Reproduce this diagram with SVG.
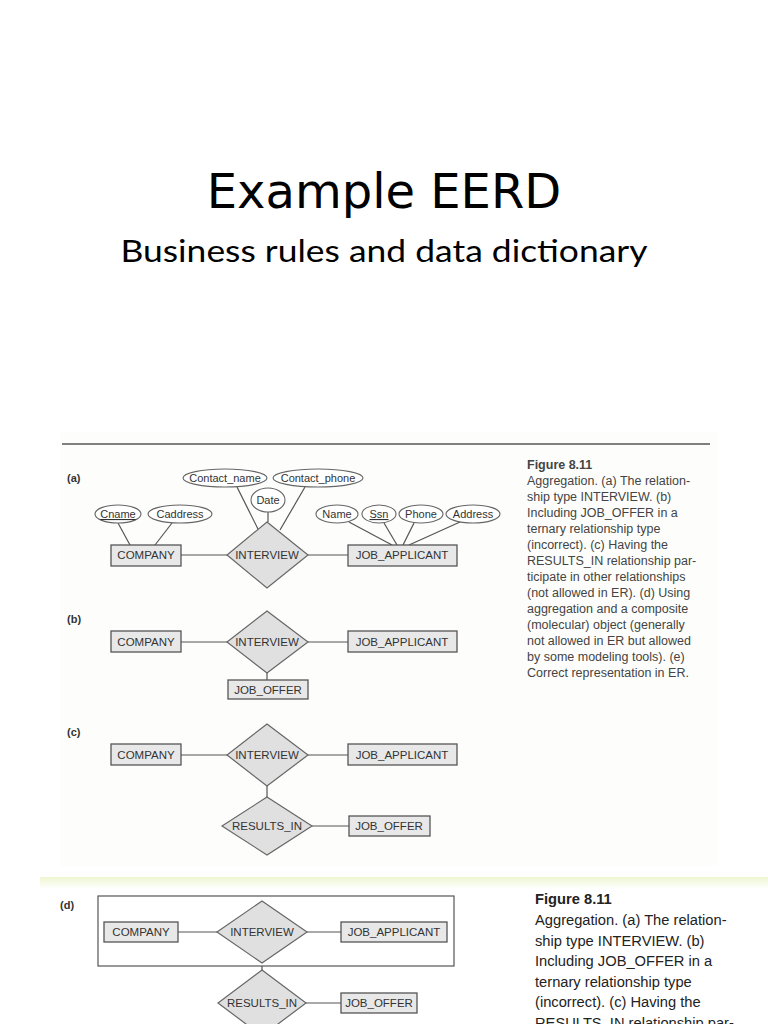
<svg xmlns="http://www.w3.org/2000/svg" width="768" height="1024" viewBox="0 0 768 1024">
<style>
.ent{fill:#e8e8e8;stroke:#555;stroke-width:1.3}
.rel{fill:#e0e0e0;stroke:#666;stroke-width:1.2}
.att{fill:#fff;stroke:#666;stroke-width:1.1}
.ln{stroke:#555;stroke-width:1.2;fill:none}
.t{font-family:"Liberation Sans",Arial,sans-serif;font-size:11px;fill:#333;text-anchor:middle}
.t2{font-family:"Liberation Sans",Arial,sans-serif;font-size:11.5px;fill:#333;text-anchor:middle}
.cap{font-family:"Liberation Sans",Arial,sans-serif;font-size:12.5px;fill:#444}
.cap2{font-family:"Liberation Sans",Arial,sans-serif;font-size:14.7px;fill:#222}
.lab{font-family:"Liberation Sans",Arial,sans-serif;font-size:11px;font-weight:bold;fill:#333}
</style>
<rect width="768" height="1024" fill="#fff"/>
<g id="title">
<text x="384" y="208" font-family="DejaVu Sans, sans-serif" font-size="48" text-anchor="middle" fill="#000">Example EERD</text>
<text x="384" y="262" font-family="Lato, sans-serif" font-size="31" text-anchor="middle" fill="#000" textLength="527" lengthAdjust="spacingAndGlyphs">Business rules and data dictionary</text>
</g>
<rect x="60" y="432" width="658" height="434" fill="#fdfefb"/>
<line x1="62" y1="444" x2="710" y2="444" stroke="#555" stroke-width="1.5"/>
<defs>
<linearGradient id="gr" x1="0" y1="0" x2="0" y2="1"><stop offset="0" stop-color="#eef6d2"/><stop offset="1" stop-color="#ffffff"/></linearGradient>
</defs>
<rect x="40" y="877" width="728" height="12" fill="url(#gr)"/>
<g id="connectors">
<line class="ln" x1="181" y1="555" x2="227" y2="555"/>
<line class="ln" x1="308" y1="555" x2="348" y2="555"/>
<line class="ln" x1="118" y1="523" x2="130" y2="545"/>
<line class="ln" x1="172" y1="523" x2="155" y2="545"/>
<line class="ln" x1="237" y1="487" x2="258" y2="529"/>
<line class="ln" x1="268" y1="512" x2="268" y2="522"/>
<line class="ln" x1="305" y1="487" x2="280" y2="530"/>
<line class="ln" x1="349" y1="522" x2="392" y2="545"/>
<line class="ln" x1="384" y1="523" x2="397" y2="545"/>
<line class="ln" x1="414" y1="523" x2="403" y2="545"/>
<line class="ln" x1="460" y1="522" x2="409" y2="545"/>
<line class="ln" x1="181" y1="642" x2="227" y2="642"/>
<line class="ln" x1="308" y1="642" x2="348" y2="642"/>
<line class="ln" x1="267" y1="673" x2="267" y2="680"/>
<line class="ln" x1="181" y1="755" x2="227" y2="755"/>
<line class="ln" x1="308" y1="755" x2="348" y2="755"/>
<line class="ln" x1="267" y1="786" x2="267" y2="797"/>
<line class="ln" x1="312" y1="826" x2="349" y2="826"/>
<line class="ln" x1="178" y1="932" x2="217" y2="932"/>
<line class="ln" x1="307" y1="932" x2="341" y2="932"/>
<line class="ln" x1="262" y1="966" x2="262" y2="970"/>
<line class="ln" x1="306" y1="1003" x2="341" y2="1003"/>
</g>
<g id="labels">
<text class="lab" x="67" y="482">(a)</text>
<text class="lab" x="67" y="623">(b)</text>
<text class="lab" x="67" y="736" font-weight="normal">(c)</text>
<text class="lab" x="60" y="909">(d)</text>
</g>
<g id="a-contact-name"><ellipse class="att" cx="225" cy="478" rx="42" ry="9"/><text class="t" x="225" y="482">Contact_name</text></g>
<g id="a-contact-phone"><ellipse class="att" cx="318" cy="478" rx="45" ry="9"/><text class="t" x="318" y="482">Contact_phone</text></g>
<g id="a-date"><ellipse class="att" cx="268" cy="500" rx="17" ry="12"/><text class="t" x="268" y="504">Date</text></g>
<g id="a-cname"><ellipse class="att" cx="118" cy="514" rx="23" ry="9"/><text class="t" x="118" y="518" text-decoration="underline">Cname</text></g>
<g id="a-caddress"><ellipse class="att" cx="180" cy="514" rx="32" ry="9"/><text class="t" x="180" y="518">Caddress</text></g>
<g id="a-name"><ellipse class="att" cx="337" cy="514" rx="21" ry="9"/><text class="t" x="337" y="518">Name</text></g>
<g id="a-ssn"><ellipse class="att" cx="379" cy="514" rx="17" ry="9"/><text class="t" x="379" y="518" text-decoration="underline">Ssn</text></g>
<g id="a-phone"><ellipse class="att" cx="421" cy="514" rx="22" ry="9"/><text class="t" x="421" y="518">Phone</text></g>
<g id="a-address"><ellipse class="att" cx="473" cy="514" rx="27" ry="9"/><text class="t" x="473" y="518">Address</text></g>
<g id="a-company"><rect class="ent" x="111" y="545" width="70" height="21"/><text class="t2" x="146" y="559">COMPANY</text></g>
<g id="a-interview"><polygon class="rel" points="267,522 308,555 267,588 227,555"/><text class="t2" x="267" y="559">INTERVIEW</text></g>
<g id="a-job-applicant"><rect class="ent" x="348" y="545" width="109" height="21"/><text class="t2" x="402" y="559">JOB_APPLICANT</text></g>
<g id="b-company"><rect class="ent" x="111" y="631" width="70" height="21"/><text class="t2" x="146" y="646">COMPANY</text></g>
<g id="b-interview"><polygon class="rel" points="267,611 308,642 267,673 227,642"/><text class="t2" x="267" y="646">INTERVIEW</text></g>
<g id="b-job-applicant"><rect class="ent" x="348" y="631" width="109" height="21"/><text class="t2" x="402" y="646">JOB_APPLICANT</text></g>
<g id="b-job-offer"><rect class="ent" x="228" y="680" width="80" height="19"/><text class="t2" x="268" y="694">JOB_OFFER</text></g>
<g id="c-company"><rect class="ent" x="111" y="744" width="70" height="21"/><text class="t2" x="146" y="759">COMPANY</text></g>
<g id="c-interview"><polygon class="rel" points="267,724 308,755 267,786 227,755"/><text class="t2" x="267" y="759">INTERVIEW</text></g>
<g id="c-job-applicant"><rect class="ent" x="348" y="744" width="109" height="21"/><text class="t2" x="402" y="759">JOB_APPLICANT</text></g>
<g id="c-results-in"><polygon class="rel" points="267,797 312,826 267,855 222,826"/><text class="t2" x="267" y="830">RESULTS_IN</text></g>
<g id="c-job-offer"><rect class="ent" x="349" y="816" width="81" height="20"/><text class="t2" x="389" y="830">JOB_OFFER</text></g>
<g id="caption1">
<text class="cap" x="527" y="469" font-weight="bold" font-size="13" fill="#222">Figure 8.11</text>
<text class="cap" x="527" y="485">Aggregation. (a) The relation-</text>
<text class="cap" x="527" y="501">ship type INTERVIEW. (b)</text>
<text class="cap" x="527" y="517">Including JOB_OFFER in a</text>
<text class="cap" x="527" y="533">ternary relationship type</text>
<text class="cap" x="527" y="549">(incorrect). (c) Having the</text>
<text class="cap" x="527" y="565">RESULTS_IN relationship par-</text>
<text class="cap" x="527" y="581">ticipate in other relationships</text>
<text class="cap" x="527" y="597">(not allowed in ER). (d) Using</text>
<text class="cap" x="527" y="613">aggregation and a composite</text>
<text class="cap" x="527" y="629">(molecular) object (generally</text>
<text class="cap" x="527" y="645">not allowed in ER but allowed</text>
<text class="cap" x="527" y="661">by some modeling tools). (e)</text>
<text class="cap" x="527" y="677">Correct representation in ER.</text>
</g>
<g id="d-aggregation"><rect x="98" y="896" width="356" height="70" fill="none" stroke="#555" stroke-width="1.2"/></g>
<g id="d-company"><rect class="ent" x="104" y="922" width="74" height="20"/><text class="t2" x="141" y="936">COMPANY</text></g>
<g id="d-interview"><polygon class="rel" points="262,901 307,932 262,963 217,932"/><text class="t2" x="262" y="936">INTERVIEW</text></g>
<g id="d-job-applicant"><rect class="ent" x="341" y="922" width="106" height="20"/><text class="t2" x="394" y="936">JOB_APPLICANT</text></g>
<g id="d-results-in"><polygon class="rel" points="262,970 306,1003 262,1036 218,1003"/><text class="t2" x="262" y="1007">RESULTS_IN</text></g>
<g id="d-job-offer"><rect class="ent" x="341" y="993" width="76" height="20"/><text class="t2" x="379" y="1007">JOB_OFFER</text></g>
<g id="caption2">
<text class="cap2" x="535" y="904" font-weight="bold" font-size="15.5">Figure 8.11</text>
<text class="cap2" x="535" y="925">Aggregation. (a) The relation-</text>
<text class="cap2" x="535" y="946">ship type INTERVIEW. (b)</text>
<text class="cap2" x="535" y="966">Including JOB_OFFER in a</text>
<text class="cap2" x="535" y="987">ternary relationship type</text>
<text class="cap2" x="535" y="1007">(incorrect). (c) Having the</text>
<text class="cap2" x="535" y="1028">RESULTS_IN relationship par-</text>
</g>
</svg>
